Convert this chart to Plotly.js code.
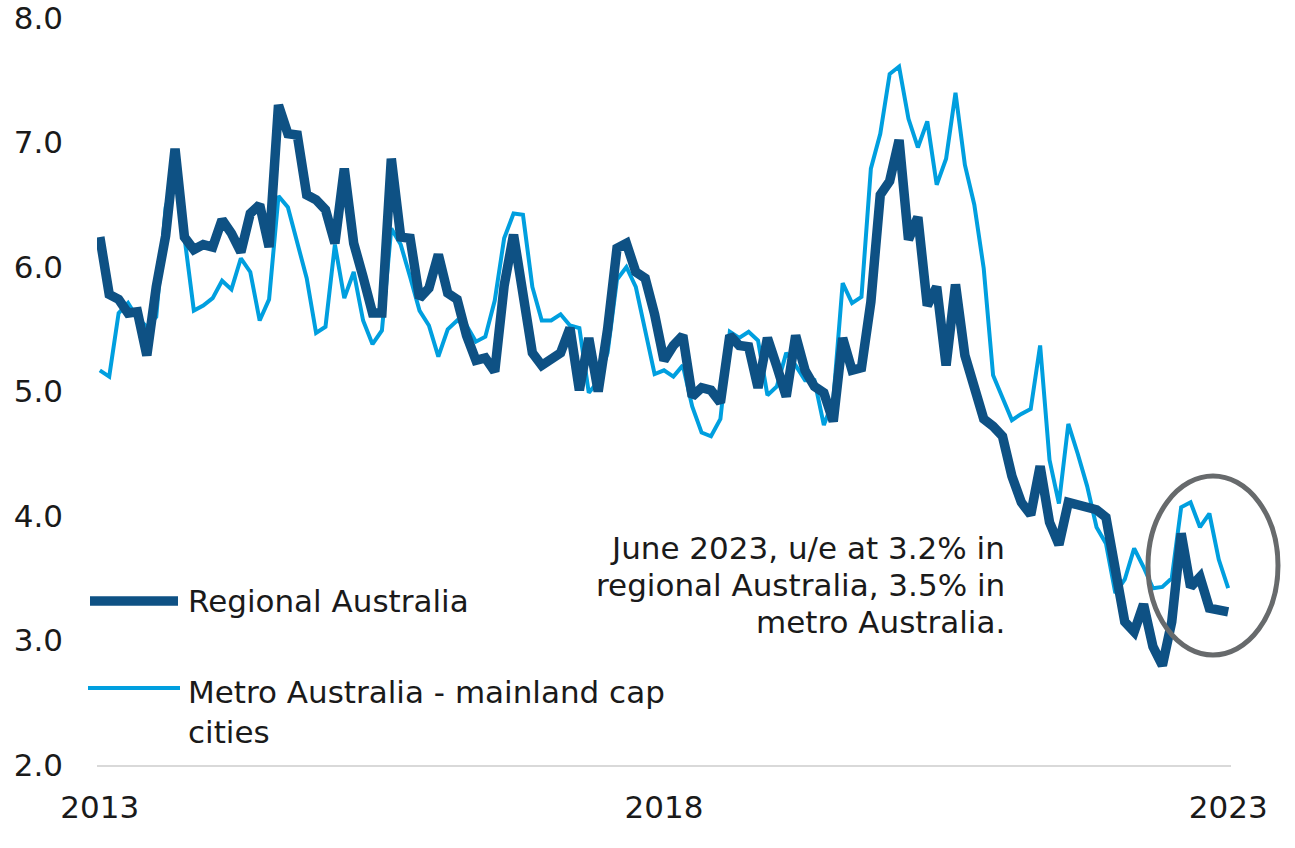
<!DOCTYPE html>
<html>
<head>
<meta charset="utf-8">
<script src="https://cdn.plot.ly/plotly-3.0.1.min.js"></script>
<style>html,body{margin:0;padding:0;background:#fff;}#chart{width:1295px;height:848px;}</style>
</head>
<body>
<div id="chart"></div>
<script>
// ---- data (monthly) ----
const seriesNames = ["Regional Australia", "Metro Australia - mainland cap<br>cities"];
const regional = [6.24,5.78,5.74,5.63,5.64,5.29,5.84,6.25,6.95,6.24,
  6.14,6.18,6.16,6.38,6.27,6.12,6.43,6.50,6.16,7.30,
  7.07,7.06,6.58,6.54,6.46,6.19,6.79,6.19,5.92,5.63,
  5.63,6.87,6.24,6.23,5.75,5.83,6.10,5.79,5.74,5.45,
  5.25,5.27,5.16,5.85,6.26,5.80,5.31,5.21,5.27,5.31,
  5.51,5.01,5.43,5.00,5.50,6.15,6.19,5.96,5.91,5.62,
  5.25,5.37,5.45,4.96,5.03,5.01,4.91,5.45,5.37,5.36,
  5.03,5.43,5.20,4.96,5.45,5.17,5.04,4.99,4.76,5.43,
  5.17,5.19,5.72,6.58,6.69,7.02,6.22,6.40,5.69,5.84,
  5.21,5.86,5.29,5.05,4.78,4.72,4.64,4.32,4.11,4.01,
  4.40,3.95,3.77,4.11,4.09,4.07,4.05,3.99,3.60,3.15,
  3.07,3.29,2.95,2.80,3.15,3.86,3.43,3.51,3.26,3.25,
  3.23];
const metro = [5.17,5.12,5.63,5.71,5.59,5.52,5.60,6.48,6.75,6.24,
  5.65,5.69,5.75,5.89,5.82,6.07,5.96,5.57,5.74,6.57,
  6.48,6.19,5.91,5.47,5.52,6.18,5.75,5.96,5.57,5.38,
  5.49,6.31,6.18,5.92,5.65,5.53,5.28,5.50,5.57,5.53,
  5.40,5.44,5.73,6.23,6.43,6.42,5.84,5.57,5.57,5.62,
  5.53,5.51,4.99,5.08,5.31,5.90,6.00,5.84,5.49,5.14,
  5.17,5.12,5.21,4.88,4.67,4.64,4.78,5.48,5.43,5.48,
  5.41,4.97,5.04,5.31,5.21,5.09,5.09,4.73,4.93,5.87,
  5.71,5.76,6.79,7.07,7.55,7.61,7.19,6.96,7.17,6.66,
  6.87,7.40,6.82,6.50,5.99,5.13,4.95,4.77,4.82,4.86,
  5.37,4.45,4.10,4.74,4.50,4.24,3.91,3.78,3.38,3.49,
  3.74,3.59,3.42,3.43,3.50,4.07,4.11,3.91,4.02,3.65,
  3.42];
const xTickLabels = ["2013", "2018", "2023"];
const yTickValues = [2, 3, 4, 5, 6, 7, 8];
const noteLines = ["June 2023, u/e at 3.2% in", "regional Australia, 3.5% in", "metro Australia."];

// ---- layout helpers ----
const W = 1295, H = 848;
const M = {l: 97, r: 64, t: 18, b: 83};
const PW = W - M.l - M.r, PH = H - M.t - M.b;
const px = v => (v - M.l) / PW;
const py = v => 1 - (v - M.t) / PH;

const idx = regional.map((_, i) => i);
const n = idx.length;
const xTickVals = [0, Math.round((n - 1) / 2), n - 1];

const DARK = "#0e5184", LIGHT = "#009fdf", TXT = "#1a1a1a";
const FONT = "DejaVu Sans, sans-serif";
const FS = 31;

const traces = [
  {x: idx, y: metro, type: "scatter", mode: "lines", name: seriesNames[1],
   line: {color: LIGHT, width: 4}, hoverinfo: "skip"},
  {x: idx, y: regional, type: "scatter", mode: "lines", name: seriesNames[0],
   line: {color: DARK, width: 9.5}, hoverinfo: "skip"}
];

const noteY = [548, 585, 622];
const noteAnnotations = noteLines.map((t, i) => ({
  xref: "paper", yref: "paper", x: px(1007), y: py(noteY[i]),
  xanchor: "right", yanchor: "middle", showarrow: false, align: "right",
  text: t, font: {family: FONT, size: FS, color: TXT}
}));

const layout = {
  width: W, height: H,
  margin: M,
  paper_bgcolor: "#fff", plot_bgcolor: "#fff",
  showlegend: false,
  font: {family: FONT, size: FS, color: TXT},
  xaxis: {
    range: [-0.3, n - 1 + 0.3],
    tickvals: xTickVals, ticktext: xTickLabels,
    showgrid: false, zeroline: false,
    showline: true, linecolor: "#d9d9d9", linewidth: 1.5,
    ticks: "", ticklabelstandoff: 14, ticklabeloverflow: "allow",
    tickfont: {family: FONT, size: FS, color: TXT}
  },
  yaxis: {
    range: [2, 8],
    tickvals: yTickValues, tickformat: ".1f",
    showgrid: false, zeroline: false, showline: false,
    ticks: "", ticklabelstandoff: 33, ticklabeloverflow: "allow",
    tickfont: {family: FONT, size: FS, color: TXT}
  },
  shapes: [
    {type: "line", xref: "paper", yref: "paper",
     x0: px(90), x1: px(178), y0: py(601), y1: py(601),
     line: {color: DARK, width: 9.5}},
    {type: "line", xref: "paper", yref: "paper",
     x0: px(88), x1: px(180), y0: py(688), y1: py(688),
     line: {color: LIGHT, width: 4}},
    {type: "circle", xref: "paper", yref: "paper",
     x0: px(1148), x1: px(1278), y0: py(655), y1: py(476),
     line: {color: "#676a6c", width: 5}}
  ],
  annotations: [
    {xref: "paper", yref: "paper", x: px(186), y: py(601),
     xanchor: "left", yanchor: "middle", showarrow: false, align: "left",
     text: seriesNames[0], font: {family: FONT, size: FS, color: TXT}},
    {xref: "paper", yref: "paper", x: px(186), y: py(712),
     xanchor: "left", yanchor: "middle", showarrow: false, align: "left",
     text: seriesNames[1], font: {family: FONT, size: FS, color: TXT}}
  ].concat(noteAnnotations)
};

Plotly.newPlot("chart", traces, layout, {staticPlot: true, displayModeBar: false});
</script>
</body>
</html>
